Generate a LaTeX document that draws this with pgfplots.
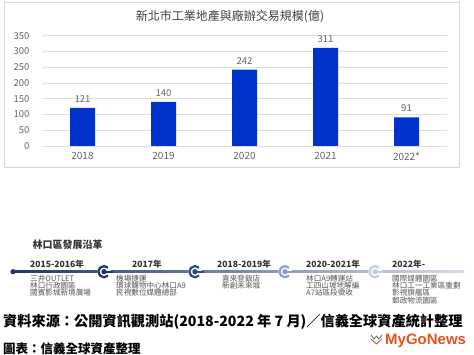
\documentclass[border=0pt]{standalone}
\usepackage{pgfplots}
\pgfplotsset{compat=1.18}
\usepackage{fontspec}
\setmainfont{Noto Sans CJK TC}
\newfontfamily\arialfont{Liberation Sans}
\definecolor{barblue}{RGB}{0,51,204}
\definecolor{tickgray}{RGB}{100,100,100}
\definecolor{gridgray}{RGB}{222,222,222}
\definecolor{framegray}{RGB}{215,215,215}
\definecolor{navy}{RGB}{31,56,100}
\definecolor{midline}{RGB}{110,132,172}
\definecolor{lightline}{RGB}{215,221,232}
\definecolor{cA}{RGB}{30,55,100}
\definecolor{cB}{RGB}{45,75,130}
\definecolor{cC}{RGB}{140,160,196}
\definecolor{cD}{RGB}{196,205,222}
\definecolor{itemgray}{RGB}{85,85,85}
\definecolor{mgorange}{RGB}{226,83,31}
\begin{document}
\begin{tikzpicture}[x=1pt,y=1pt]
\path[use as bounding box] (0,0) rectangle (474,355);
\fill[white] (0,0) rectangle (474,355);
% chart frame
\draw[framegray, line width=0.8pt] (4,188) rectangle (459,353);
\node[text=black!75] at (230,338) {\fontsize{12}{14}\selectfont 新北市工業地產與廠辦交易規模(億)};
\begin{axis}[at={(42pt,209pt)}, anchor=south west, scale only axis,
  width=405pt, height=110.3pt,
  xmin=-0.5, xmax=4.5, ymin=0, ymax=350,
  ytick={0,50,...,350}, xtick={0,...,4},
  xticklabels={2018,2019,2020,2021,2022*},
  ymajorgrids, grid style={gridgray, line width=0.7pt},
  axis line style={draw=none}, major tick length=0pt,
  tick label style={text=tickgray, font=\fontsize{9.5}{11}\selectfont},
  /pgf/number format/assume math mode=true,
  yticklabel style={xshift=-9pt},
  xticklabel style={yshift=-3pt, font=\fontsize{10}{12}\selectfont},
  ybar, bar width=25pt,
  nodes near coords,
  nodes near coords style={text=tickgray, font=\fontsize{9.5}{11}\selectfont, yshift=2pt},
  clip=false]
\addplot[fill=barblue, draw=none] coordinates {(0,121) (1,140) (2,242) (3,311) (4,91)};
\end{axis}
% timeline
\node[anchor=west, text=black!80] at (29,110) {\fontsize{10}{12}\selectfont\bfseries 林口區發展沿革};
\shade[left color=navy, middle color=midline, right color=lightline] (13,82.3) rectangle (464,84.3);
\fill[navy] (13,83.3) circle (2.6);
\foreach \cx/\cc in {104/cA, 195/cB, 285/cC, 375/cD}{
  \fill[white] (\cx,83.3) circle (6.8);
  \draw[\cc, line width=2.2pt] (\cx,83.3) ++(45:5.6) arc[start angle=45, end angle=315, radius=5.6];
  \fill[\cc] (\cx,83.3) circle (2.7);
  \draw[\cc, line width=2pt] (\cx,83.3) -- (\cx+9,83.3);
}
\begin{scope}[every node/.style={anchor=west, inner sep=0pt, text=black!80, font=\fontsize{8.6}{10}\selectfont\bfseries}]
\node at (30,91) {2015-2016年};
\node at (132,91) {2017年};
\node at (217,91) {2018-2019年};
\node at (306,91) {2020-2021年};
\node at (392,91) {2022年-};
\end{scope}
\begin{scope}[every node/.style={anchor=west, inner sep=0pt, text=itemgray, font=\fontsize{7.6}{9}\selectfont}]
\node at (30,76.7) {三井OUTLET};
\node at (30,69.4) {林口行政園區};
\node at (30,62) {國賓影城新境廣場};
\node at (116,76.7) {機場捷運};
\node at (116,69.4) {環球購物中心林口A9};
\node at (116,62) {民視數位媒體總部};
\node at (222,76.7) {喜來登飯店};
\node at (222,69.4) {新創未來城};
\node at (306,76.7) {林口A9轉運站};
\node at (306,69.4) {工四山坡地解編};
\node at (306,62) {A7站區段徵收};
\node at (392,76.7) {國際媒體園區};
\node at (392,69.4) {林口工一工業區重劃};
\node at (392,62) {影視旗艦區};
\node at (392,54.5) {郵政物流園區};
\end{scope}
% source
\node[anchor=west, inner sep=0pt] at (3,33.3) {\fontsize{14.2}{16}\selectfont\bfseries 資料來源：公開資訊觀測站(2018-2022 年 7 月)／信義全球資產統計整理};
\node[anchor=west, inner sep=0pt] at (3,6) {\fontsize{12.5}{14}\selectfont\bfseries 圖表：信義全球資產整理};
% logo
\draw[black!55, line width=0.9pt, line join=round] (371,20) -- (374,16) -- (376.5,19) -- (379,16) -- (382,20);
\draw[mgorange, line width=0.9pt, line join=round] (371,16) -- (376.5,11) -- (382,16);
\node[anchor=west, inner sep=0pt, text=mgorange] at (385,14) {\arialfont\fontsize{15}{17}\selectfont\bfseries MyGoNews};
\end{tikzpicture}
\end{document}
